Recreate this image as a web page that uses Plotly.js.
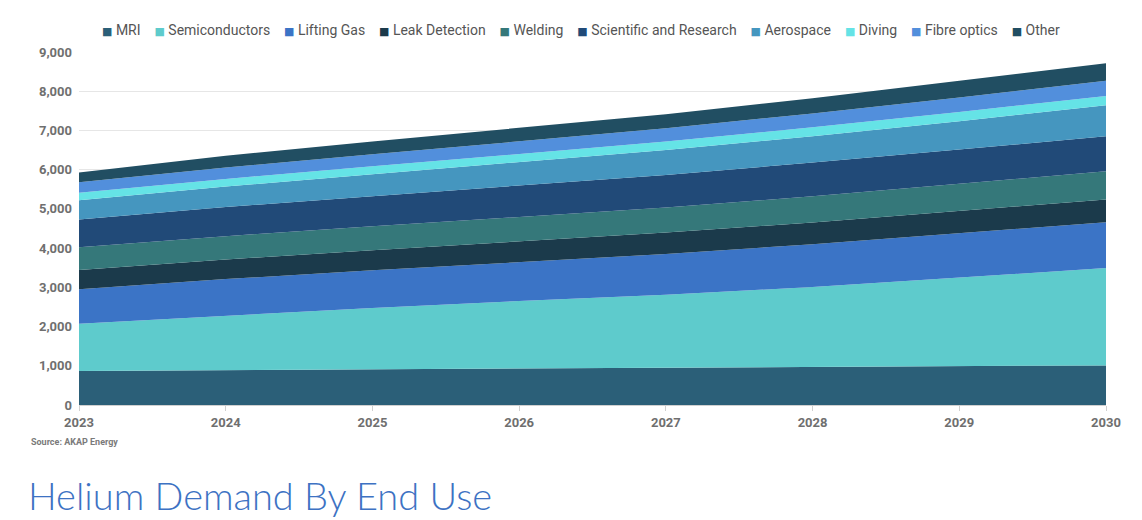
<!DOCTYPE html>
<html>
<head>
<meta charset="utf-8">
<script src="https://cdn.plot.ly/plotly-3.0.1.min.js"></script>
<style>
  html, body { margin: 0; padding: 0; background: #ffffff; }
  #chart { width: 1142px; height: 520px; }
</style>
</head>
<body>
<div id="chart"></div>
<script>
// Helium demand by end use, stacked by year
const years = [2023, 2024, 2025, 2026, 2027, 2028, 2029, 2030];

const mri            = [870, 890, 905, 920, 940, 960, 985, 1010];
const semiconductors = [1200, 1390, 1570, 1730, 1870, 2050, 2260, 2480];
const liftingGas     = [880, 930, 960, 990, 1040, 1090, 1130, 1170];
const leakDetection  = [490, 500, 510, 530, 545, 555, 570, 580];
const welding        = [580, 595, 610, 625, 640, 665, 690, 720];
const scientific     = [710, 740, 770, 795, 830, 860, 880, 890];
const aerospace      = [490, 525, 560, 595, 635, 675, 720, 790];
const diving         = [190, 195, 200, 210, 215, 225, 235, 240];
const fibreOptics    = [270, 290, 305, 320, 340, 355, 370, 385];
const other          = [250, 300, 330, 345, 360, 385, 420, 450];

const seriesNames = ["MRI", "Semiconductors", "Lifting Gas", "Leak Detection", "Welding",
  "Scientific and Research", "Aerospace", "Diving", "Fibre optics", "Other"];
const seriesValues = [mri, semiconductors, liftingGas, leakDetection, welding,
  scientific, aerospace, diving, fibreOptics, other];
const seriesColors = ["#2b5f78", "#5ecbcc", "#3b74c6", "#1b3a4b", "#35787a",
  "#214a78", "#4596bf", "#65e3e6", "#528fdc", "#214e62"];

// stacked areas
const traces = seriesNames.map((name, i) => ({
  type: "scatter",
  mode: "lines",
  name: name,
  x: years,
  y: seriesValues[i],
  stackgroup: "demand",
  line: { width: 0, color: seriesColors[i] },
  fillcolor: seriesColors[i],
  showlegend: false,
  hoverinfo: "x+y+name"
}));

// compact one-row key: coloured square followed by the series name
const keyText = seriesNames.map((name, i) =>
  '<span style="color:' + seriesColors[i] + ';font-size:11px">■</span>&nbsp;' + name
).join("&nbsp;&nbsp;&nbsp;&nbsp;");

const tickFont = { family: "Roboto, 'DejaVu Sans', sans-serif", size: 13, color: "#6f6f6f", weight: 700 };

const layout = {
  width: 1142,
  height: 520,
  paper_bgcolor: "#ffffff",
  plot_bgcolor: "#ffffff",
  margin: { l: 79, r: 36, t: 52, b: 115, autoexpand: false },
  showlegend: false,
  xaxis: {
    type: "linear",
    range: [2023, 2030],
    tickmode: "array",
    tickvals: years,
    ticktext: years.map(String),
    tickfont: tickFont,
    ticks: "outside",
    ticklen: 5,
    tickcolor: "#d0d0d0",
    showline: true,
    linecolor: "#d0d0d0",
    linewidth: 1,
    showgrid: false,
    zeroline: false,
    fixedrange: true
  },
  yaxis: {
    range: [0, 9000],
    tickmode: "linear",
    tick0: 0,
    dtick: 1000,
    tickformat: ",d",
    tickfont: tickFont,
    ticks: "",
    ticklabelstandoff: 6,
    showgrid: true,
    gridcolor: "#e6e6e6",
    gridwidth: 1,
    zeroline: false,
    showline: false,
    fixedrange: true
  },
  annotations: [
    {
      xref: "paper", yref: "paper",
      x: 0.4888, y: 1.0623,
      xanchor: "center", yanchor: "middle",
      text: keyText,
      showarrow: false,
      font: { family: "Roboto, 'DejaVu Sans', sans-serif", size: 14, color: "#555555" }
    },
    {
      xref: "paper", yref: "paper",
      x: -0.049, y: -0.105,
      xanchor: "left", yanchor: "middle",
      text: "Source: AKAP Energy",
      showarrow: false,
      font: { family: "Roboto, 'DejaVu Sans', sans-serif", size: 9, color: "#7a7a7a", weight: 700 }
    },
    {
      xref: "paper", yref: "paper",
      x: -0.052, y: -0.255,
      xanchor: "left", yanchor: "middle",
      text: "Helium Demand By End Use",
      showarrow: false,
      font: { family: "Lato, 'Open Sans', sans-serif", size: 38, color: "#3d72c3", weight: 300 }
    }
  ]
};

Plotly.newPlot("chart", traces, layout, { displayModeBar: false });
</script>
</body>
</html>
